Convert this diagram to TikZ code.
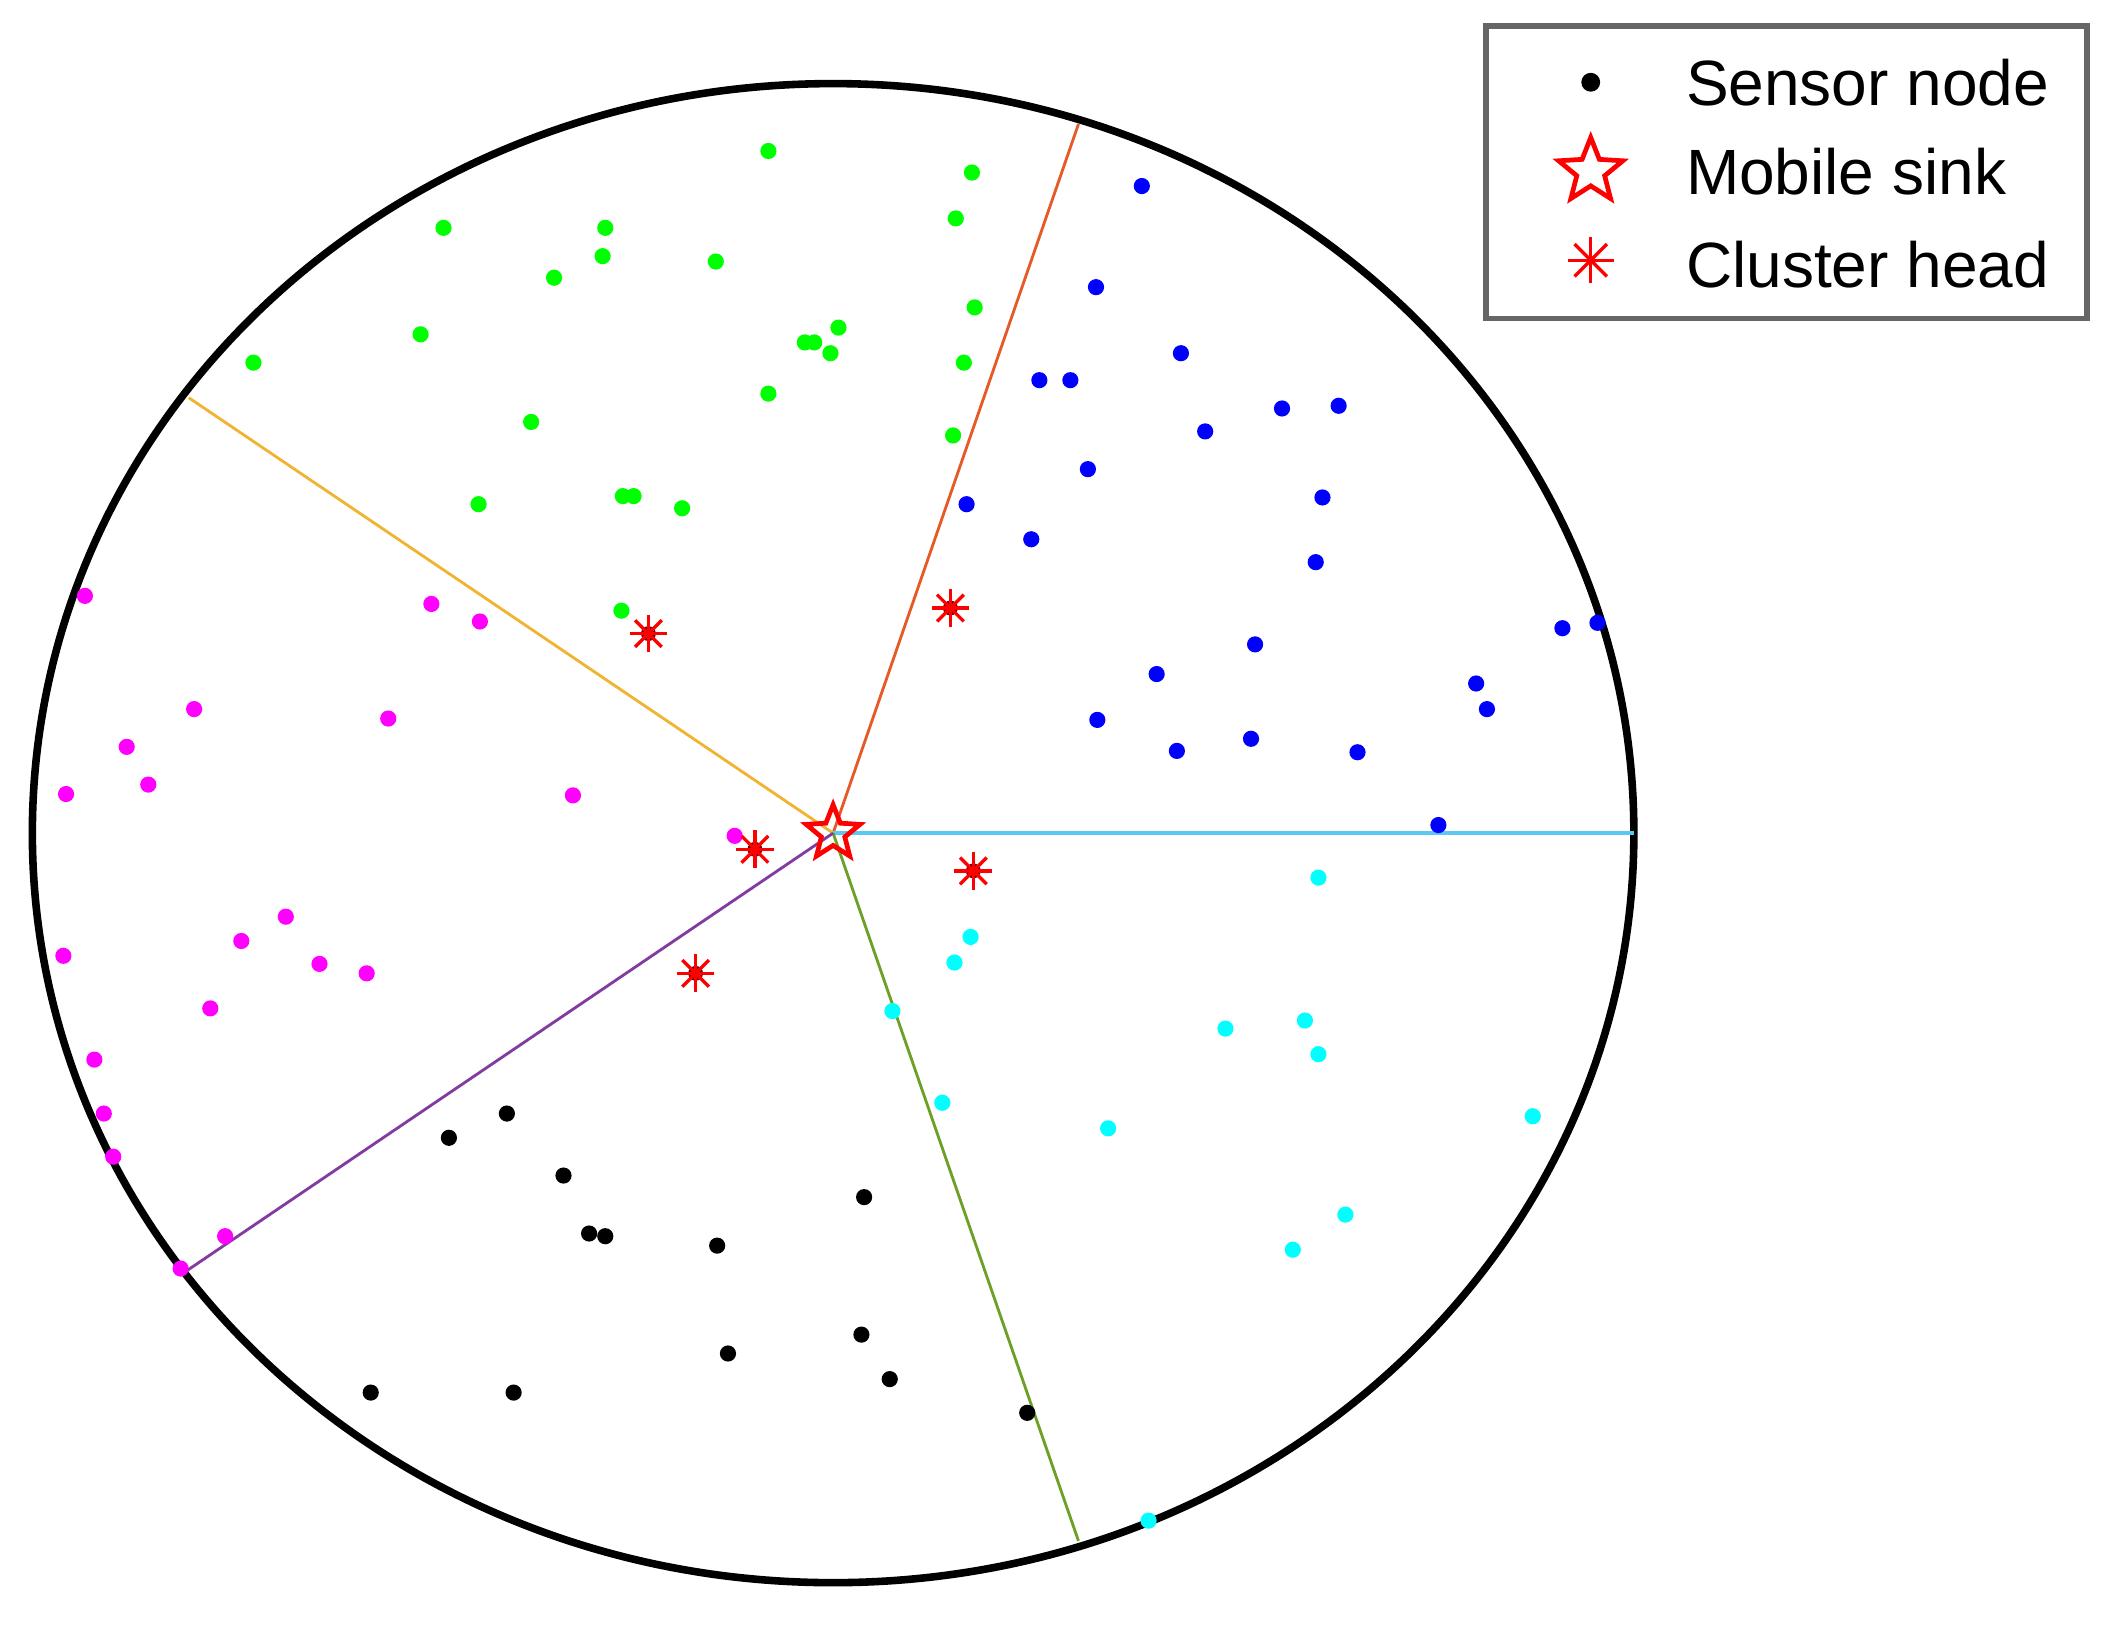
\documentclass[tikz,border=0pt]{standalone}
\usepackage{fontspec}
\setmainfont{Liberation Sans}
\usetikzlibrary{shapes.geometric}
\definecolor{cy}{RGB}{0,255,255}
\definecolor{mg}{RGB}{255,0,255}
\definecolor{gr}{RGB}{0,255,0}
\definecolor{bl}{RGB}{0,0,255}
\begin{document}
\begin{tikzpicture}[x=0.01cm,y=-0.01cm,
 dot/.style={circle,fill=#1,inner sep=0pt,minimum size=0.12cm},
 chd/.style={circle,fill=black!60!red,inner sep=0pt,minimum size=0.11cm},
 legtxt/.style={anchor=west,font=\fontsize{13.5}{16}\selectfont,inner sep=0pt}]
\useasboundingbox (0,0) rectangle (1560,1205);
\coordinate (c) at (618,618);
\draw[line width=1.6pt] (c) ellipse[x radius=594,y radius=-556];
\coordinate (e1) at (800,92); \coordinate (e2) at (140,295);
\coordinate (e3) at (1212,618); \coordinate (e4) at (800,1143);
\coordinate (e5) at (135,945);
\draw[color={rgb,255:red,230;green,90;blue,40},line width=0.6pt] (c)--(e1);
\draw[color={rgb,255:red,240;green,180;blue,50},line width=0.6pt] (c)--(e2);
\draw[color={rgb,255:red,90;green,200;blue,240},line width=0.8pt] (c)--(e3);
\draw[color={rgb,255:red,110;green,160;blue,40},line width=0.6pt] (c)--(e4);
\draw[color={rgb,255:red,130;green,60;blue,160},line width=0.6pt] (c)--(e5);
\foreach \p in {(570,112),(721,128),(709,162),(329,169),(449,169),(447,190),(531,194),(411,206),(723,228),(312,248),(622,243),(597,254),(604,254),(616,262),(188,269),(715,269),(570,292),(394,313),(707,323),(355,374),(462,368),(470,368),(506,377),(461,453)}
  \node[dot=gr] at \p {};
\foreach \p in {(847,138),(813,213),(876,262),(771,282),(794,282),(951,303),(993,301),(894,320),(807,348),(981,369),(717,374),(765,400),(976,417),(1159,466),(1185,462),(931,478),(858,500),(1095,507),(1103,526),(814,534),(873,557),(928,548),(1007,558),(1067,612)}
  \node[dot=bl] at \p {};
\foreach \p in {(978,651),(720,695),(708,714),(662,750),(968,757),(909,763),(978,782),(699,818),(822,837),(1137,828),(998,901),(959,927),(852,1128)}
  \node[dot=cy] at \p {};
\foreach \p in {(376,826),(333,844),(418,872),(641,888),(437,915),(449,917),(532,924),(540,1004),(639,990),(660,1023),(275,1033),(381,1033),(762,1048)}
  \node[dot=black] at \p {};
\foreach \p in {(63,442),(320,448),(356,461),(144,526),(94,554),(288,533),(110,582),(49,589),(425,590),(545,620),(212,680),(179,698),(47,709),(237,715),(272,722),(156,748),(70,786),(77,826),(84,858),(167,917),(134,941)}
  \node[dot=mg] at \p {};
\foreach \n/\x/\y in {h1/481/470,h2/705/451,h3/560/630,h4/722/646,h5/516/722}{
  \node[chd] (\n) at (\x,\y) {};
  \foreach \a in {0,45,90,135} \draw[red,line width=0.7pt] (\n.center) ++(\a:14) -- ++(\a+180:28);
}
\node[star,star points=5,star point ratio=2.3,draw=red,line width=1pt,minimum size=0.42cm,inner sep=0pt] (sink) at (c) {};
% legend
\node[draw=black!60,line width=1.2pt,fill=white,minimum width=4.46cm,minimum height=2.17cm,anchor=north west] (leg) at (1100,17) {};
\node[dot=black,minimum size=0.14cm] (l1) at (1180,61) {};
\node[star,star points=5,star point ratio=2.3,draw=red,line width=1pt,minimum size=0.5cm,inner sep=0pt] (l2) at (1180,127) {};
\coordinate (l3) at (1180,193);
\foreach \a in {0,45,90,135} \draw[red,line width=0.7pt] (l3) ++(\a:17) -- ++(\a+180:34);
\node[legtxt] (t1) at (1250,61) {Sensor node};
\node[legtxt] (t2) at (1250,127) {Mobile sink};
\node[legtxt] (t3) at (1250,196) {Cluster head};
\end{tikzpicture}
\end{document}
